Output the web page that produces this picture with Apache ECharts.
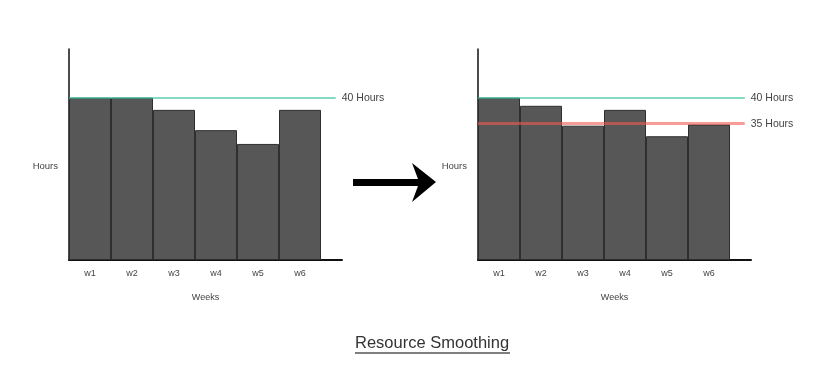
<!DOCTYPE html>
<html>
<head>
<meta charset="utf-8">
<script src="https://cdn.jsdelivr.net/npm/echarts@6/dist/echarts.min.js"></script>
<style>html,body{margin:0;padding:0;background:#fff}#c{width:828px;height:381px}</style>
</head>
<body>
<div id="c"></div>
<script>
// Data
const weeks = ['w1', 'w2', 'w3', 'w4', 'w5', 'w6'];
const hoursBefore = [40, 40, 37, 32, 28.6, 37];
const hoursAfter = [40, 38, 33.1, 37, 30.5, 33.4];
const limitHigh = 40;
const limitLow = 33.6;      // drawn position of the "35 Hours" line
const limitHighLabel = '40 Hours';
const limitLowLabel = '35 Hours';
const titleText = 'Resource Smoothing';
const xName = 'Weeks';
const yName = 'Hours';

const FONT = '"Liberation Sans", Arial, sans-serif';
const toPts = arr => arr.map((v, i) => [i + 1, v]);

function xAxisCfg(gi) {
  return {
    type: 'value', gridIndex: gi, min: 0.5, max: 7, interval: 0.5,
    name: xName, nameLocation: 'middle', nameGap: 33,
    nameTextStyle: { fontFamily: FONT, fontSize: 9, color: '#444' },
    axisLine: { show: true, lineStyle: { color: '#111', width: 2 } },
    axisTick: { show: false }, splitLine: { show: false },
    axisLabel: {
      fontFamily: FONT, fontSize: 9, color: '#444', margin: 9,
      showMinLabel: true, showMaxLabel: true,
      formatter: v => (Number.isInteger(v) && v >= 1 && v <= weeks.length) ? weeks[v - 1] : ''
    }
  };
}
function yAxisCfg(gi) {
  return {
    type: 'value', gridIndex: gi, min: 0, max: 52,
    name: '{a|' + yName + '}', nameLocation: 'middle', nameGap: 11, nameRotate: 0,
    nameTextStyle: {
      align: 'right',
      rich: { a: { fontFamily: FONT, fontSize: 9.5, color: '#444', padding: [23, 0, 0, 0] } }
    },
    axisLine: { show: true, lineStyle: { color: '#111', width: 1.5 } },
    axisTick: { show: false }, axisLabel: { show: false }, splitLine: { show: false }
  };
}
function limitLine(val, text, color, width) {
  return [
    { coord: [0.5, val], lineStyle: { color: color, width: width, type: 'solid' },
      label: { show: true, position: 'end', formatter: text, distance: 6,
        fontFamily: FONT, fontSize: 10.5, color: '#444' } },
    { coord: [6.85, val] }
  ];
}
function barSeries(gi, data, lines) {
  return {
    type: 'bar', xAxisIndex: gi, yAxisIndex: gi, data: toPts(data),
    barWidth: '100%',
    itemStyle: { color: '#575757', borderColor: '#2f2f2f', borderWidth: 1 },
    markLine: { silent: true, symbol: 'none', animation: false, data: lines },
    animation: false
  };
}

const chart = echarts.init(document.getElementById('c'));
chart.setOption({
  backgroundColor: '#fff',
  animation: false,
  title: {
    text: titleText, left: 355, top: 335, padding: 0,
    textStyle: { fontFamily: FONT, fontSize: 16.5, fontWeight: 'normal', color: '#333' }
  },
  grid: [
    { left: 69, top: 49, width: 273, height: 211 },
    { left: 478, top: 49, width: 273, height: 211 }
  ],
  xAxis: [xAxisCfg(0), xAxisCfg(1)],
  yAxis: [yAxisCfg(0), yAxisCfg(1)],
  series: [
    barSeries(0, hoursBefore, [limitLine(limitHigh, limitHighLabel, 'rgba(47,195,154,0.6)', 2)]),
    barSeries(1, hoursAfter, [
      limitLine(limitHigh, limitHighLabel, 'rgba(47,195,154,0.6)', 2),
      limitLine(limitLow, limitLowLabel, 'rgba(240,88,78,0.6)', 3)
    ])
  ],
  graphic: [
    { type: 'polygon', shape: { points: [[353,179],[418,179],[412,163],[436,182],[412,202],[418,186],[353,186]] },
      style: { fill: '#000' } },
    { type: 'line', shape: { x1: 355, y1: 353, x2: 510, y2: 353 }, style: { stroke: '#555', lineWidth: 1.5 } }
  ]
});
</script>
</body>
</html>
